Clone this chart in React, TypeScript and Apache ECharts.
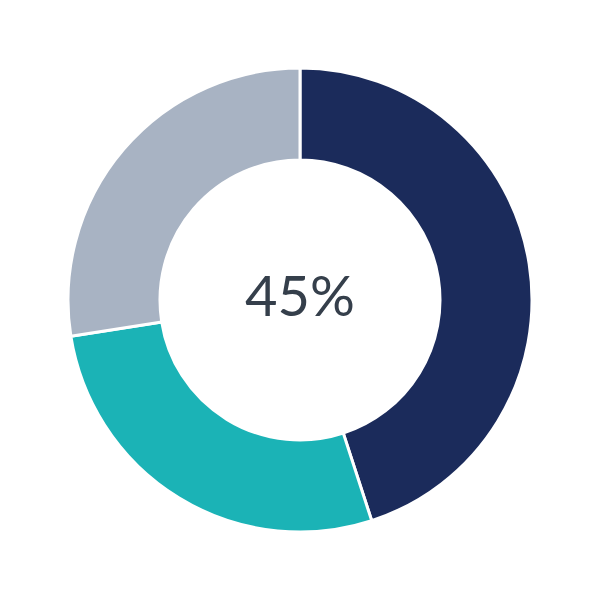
import React, { useEffect, useRef } from 'react';
import * as echarts from 'echarts';

const categories = ['A', 'B', 'C'];
const values = [45, 27.5, 27.5];
const colors = ['#1b2b5b', '#1bb3b6', '#a8b3c3'];
const centerLabel = '45%';

const App: React.FC = () => {
  const chartRef = useRef<HTMLDivElement>(null);

  useEffect(() => {
    document.body.style.margin = '0';
    if (!chartRef.current) return;
    const chart = echarts.init(chartRef.current, null, { renderer: 'svg' });

    chart.setOption({
      animation: false,
      backgroundColor: '#ffffff',
      graphic: [
        {
          type: 'text',
          left: 'center',
          top: 266,
          style: {
            text: centerLabel,
            fontFamily: 'Lato',
            fontSize: 56,
            fill: '#353f4b'
          }
        }
      ],
      series: [
        {
          type: 'pie',
          center: ['50%', '50%'],
          radius: [140, 232],
          startAngle: 90,
          clockwise: true,
          label: { show: false },
          labelLine: { show: false },
          itemStyle: {
            borderColor: '#ffffff',
            borderWidth: 3
          },
          emphasis: { disabled: true },
          data: categories.map((name, i) => ({
            name,
            value: values[i],
            itemStyle: { color: colors[i] }
          }))
        }
      ]
    });

    return () => {
      chart.dispose();
    };
  }, []);

  return <div ref={chartRef} style={{ width: '600px', height: '600px' }}></div>;
};

export default App;
